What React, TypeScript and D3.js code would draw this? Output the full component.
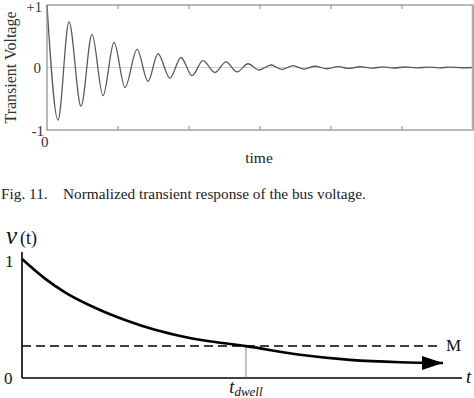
import React from "react";
import * as d3 from "d3";

// ---- Top chart (Fig. 11): damped oscillation, extrema ----
const oscTimes = [
  0, 0.155, 0.31, 0.479, 0.634, 0.789, 0.944, 1.099, 1.268, 1.423, 1.563, 1.732,
  1.887, 2.042, 2.197, 2.366, 2.521, 2.676, 2.831, 2.986, 3.155, 3.31, 3.465,
  3.62, 3.775, 3.944, 4.099, 4.254, 4.408, 4.577, 4.732, 4.887, 5.042, 5.211,
  5.366, 5.521, 5.676, 5.845, 6.0,
];
const oscValues = [
  1.0, -0.84, 0.73, -0.62, 0.53, -0.45, 0.4, -0.32, 0.29, -0.22, 0.22, -0.17,
  0.16, -0.13, 0.11, -0.08, 0.09, -0.07, 0.06, -0.04, 0.04, -0.03, 0.03, -0.025,
  0.02, -0.02, 0.015, -0.015, 0.012, -0.01, 0.01, -0.008, 0.008, -0.006, 0.006,
  -0.005, 0.005, -0.004, 0.0,
];
const topXTicks = [1, 2, 3, 4, 5];
const topYLabels = ["+1", "0", "-1"];
const caption = "Fig. 11.";
const captionText = "Normalized transient response of the bus voltage.";

// ---- Bottom chart: v(t) decay with threshold M ----
const decayTimes = [0, 0.523, 0.977, 1.659, 2.341, 3.023, 3.705, 4.386, 5.09, 6.318, 7.455, 8.591, 9.568];
const decayValues = [1.0, 0.835, 0.72, 0.59, 0.487, 0.405, 0.345, 0.302, 0.268, 0.195, 0.152, 0.132, 0.126];
const thresholdM = 0.268;
const tDwell = 5.09;

export default function App() {
  const tx = d3.scaleLinear().domain([0, 6]).range([47, 473]);
  const ty = d3.scaleLinear().domain([-1, 1]).range([130, 5]);
  const oscPts: [number, number][] = oscTimes.map((t, i) => [t, oscValues[i]]);
  const oscLine = d3
    .line<[number, number]>()
    .x((d) => tx(d[0]))
    .y((d) => ty(d[1]))
    .curve(d3.curveMonotoneX);

  const bx = d3.scaleLinear().domain([0, 10]).range([22, 462]);
  const by = d3.scaleLinear().domain([0, 1]).range([378, 259]);
  const decPts: [number, number][] = decayTimes.map((t, i) => [t, decayValues[i]]);
  const decLine = d3
    .line<[number, number]>()
    .x((d) => bx(d[0]))
    .y((d) => by(d[1]))
    .curve(d3.curveMonotoneX);
  const tip = decPts[decPts.length - 1];
  const tipX = bx(tip[0]);
  const tipY = by(tip[1]);
  const serif = '"Liberation Serif", "Times New Roman", Times, serif';
  const frame = "#8a8a8a";

  return (
    <svg
      width={474}
      height={398}
      style={{ position: "absolute", left: 0, top: 0, background: "#fff", fontFamily: serif }}
    >
      {/* ---------- TOP CHART ---------- */}
      <line x1={tx(0)} x2={tx(6)} y1={ty(0)} y2={ty(0)} stroke="#d4d4d4" strokeWidth={1} />
      <path d={oscLine(oscPts) || ""} fill="none" stroke="#5a5a5a" strokeWidth={1.3} />
      <rect x={tx(0)} y={ty(1)} width={tx(6) - tx(0)} height={ty(-1) - ty(1)} fill="none" stroke={frame} strokeWidth={1.2} />
      <line x1={tx(6)} x2={tx(6)} y1={ty(1)} y2={ty(-1)} stroke="#aaa" strokeWidth={2.5} />
      {topXTicks.map((t) => (
        <g key={t}>
          <line x1={tx(t)} x2={tx(t)} y1={ty(1)} y2={ty(1) + 4} stroke={frame} />
          <line x1={tx(t)} x2={tx(t)} y1={ty(-1)} y2={ty(-1) - 4} stroke={frame} />
        </g>
      ))}
      <text x={42} y={ty(1) + 7} textAnchor="end" fontSize={14.5} fill="#333">{topYLabels[0]}</text>
      <text x={41} y={ty(0) + 5} textAnchor="end" fontSize={15} fill="#333">{topYLabels[1]}</text>
      <text x={44} y={ty(-1) + 6} textAnchor="end" fontSize={15} fill="#333">{topYLabels[2]}</text>
      <text x={tx(0) - 6} y={147} textAnchor="start" fontSize={15} fill="#333">0</text>
      <text
        transform={`translate(16, ${ty(0)}) rotate(-90)`}
        textAnchor="middle"
        fontSize={16}
        fill="#333"
      >
        Transient Voltage
      </text>
      <text x={259} y={163} textAnchor="middle" fontSize={15.5} fill="#222">time</text>

      {/* caption */}
      <text x={1} y={199} fontSize={15.3} fill="#222">{caption}</text>
      <text x={63} y={199} fontSize={15.3} fill="#222">{captionText}</text>

      {/* ---------- BOTTOM CHART ---------- */}
      <line x1={bx(0)} x2={bx(0)} y1={252} y2={by(0)} stroke="#000" strokeWidth={1.6} />
      <line x1={bx(0)} x2={462} y1={by(0)} y2={by(0)} stroke="#000" strokeWidth={1.6} />
      <line
        x1={bx(0)}
        x2={440}
        y1={by(thresholdM)}
        y2={by(thresholdM)}
        stroke="#000"
        strokeWidth={1.5}
        strokeDasharray="9,5"
      />
      <line x1={bx(tDwell)} x2={bx(tDwell)} y1={by(thresholdM)} y2={by(0)} stroke="#777" strokeWidth={0.9} />
      <path d={decLine(decPts) || ""} fill="none" stroke="#000" strokeWidth={2.6} />
      <path
        d={`M${tipX},${tipY} L${tipX - 21},${tipY - 7} L${tipX - 21},${tipY + 7} Z`}
        fill="#000"
      />
      <text x={5} y={by(1) + 8} fontSize={17} fill="#111">1</text>
      <text x={4} y={by(0) + 6} fontSize={17} fill="#111">0</text>
      <text x={6} y={244} fontSize={25} fontStyle="italic" fill="#111">v</text>
      <text x={20} y={244} fontSize={18} fill="#111">(t)</text>
      <text x={446} y={351} fontSize={17} fill="#111">M</text>
      <text x={466} y={383} fontSize={19} fontStyle="italic" fill="#111">t</text>
      <text x={bx(tDwell)} y={393} textAnchor="middle" fill="#111" fontStyle="italic">
        <tspan fontSize={18}>t</tspan>
        <tspan fontSize={13} dy={3}>dwell</tspan>
      </text>
    </svg>
  );
}
